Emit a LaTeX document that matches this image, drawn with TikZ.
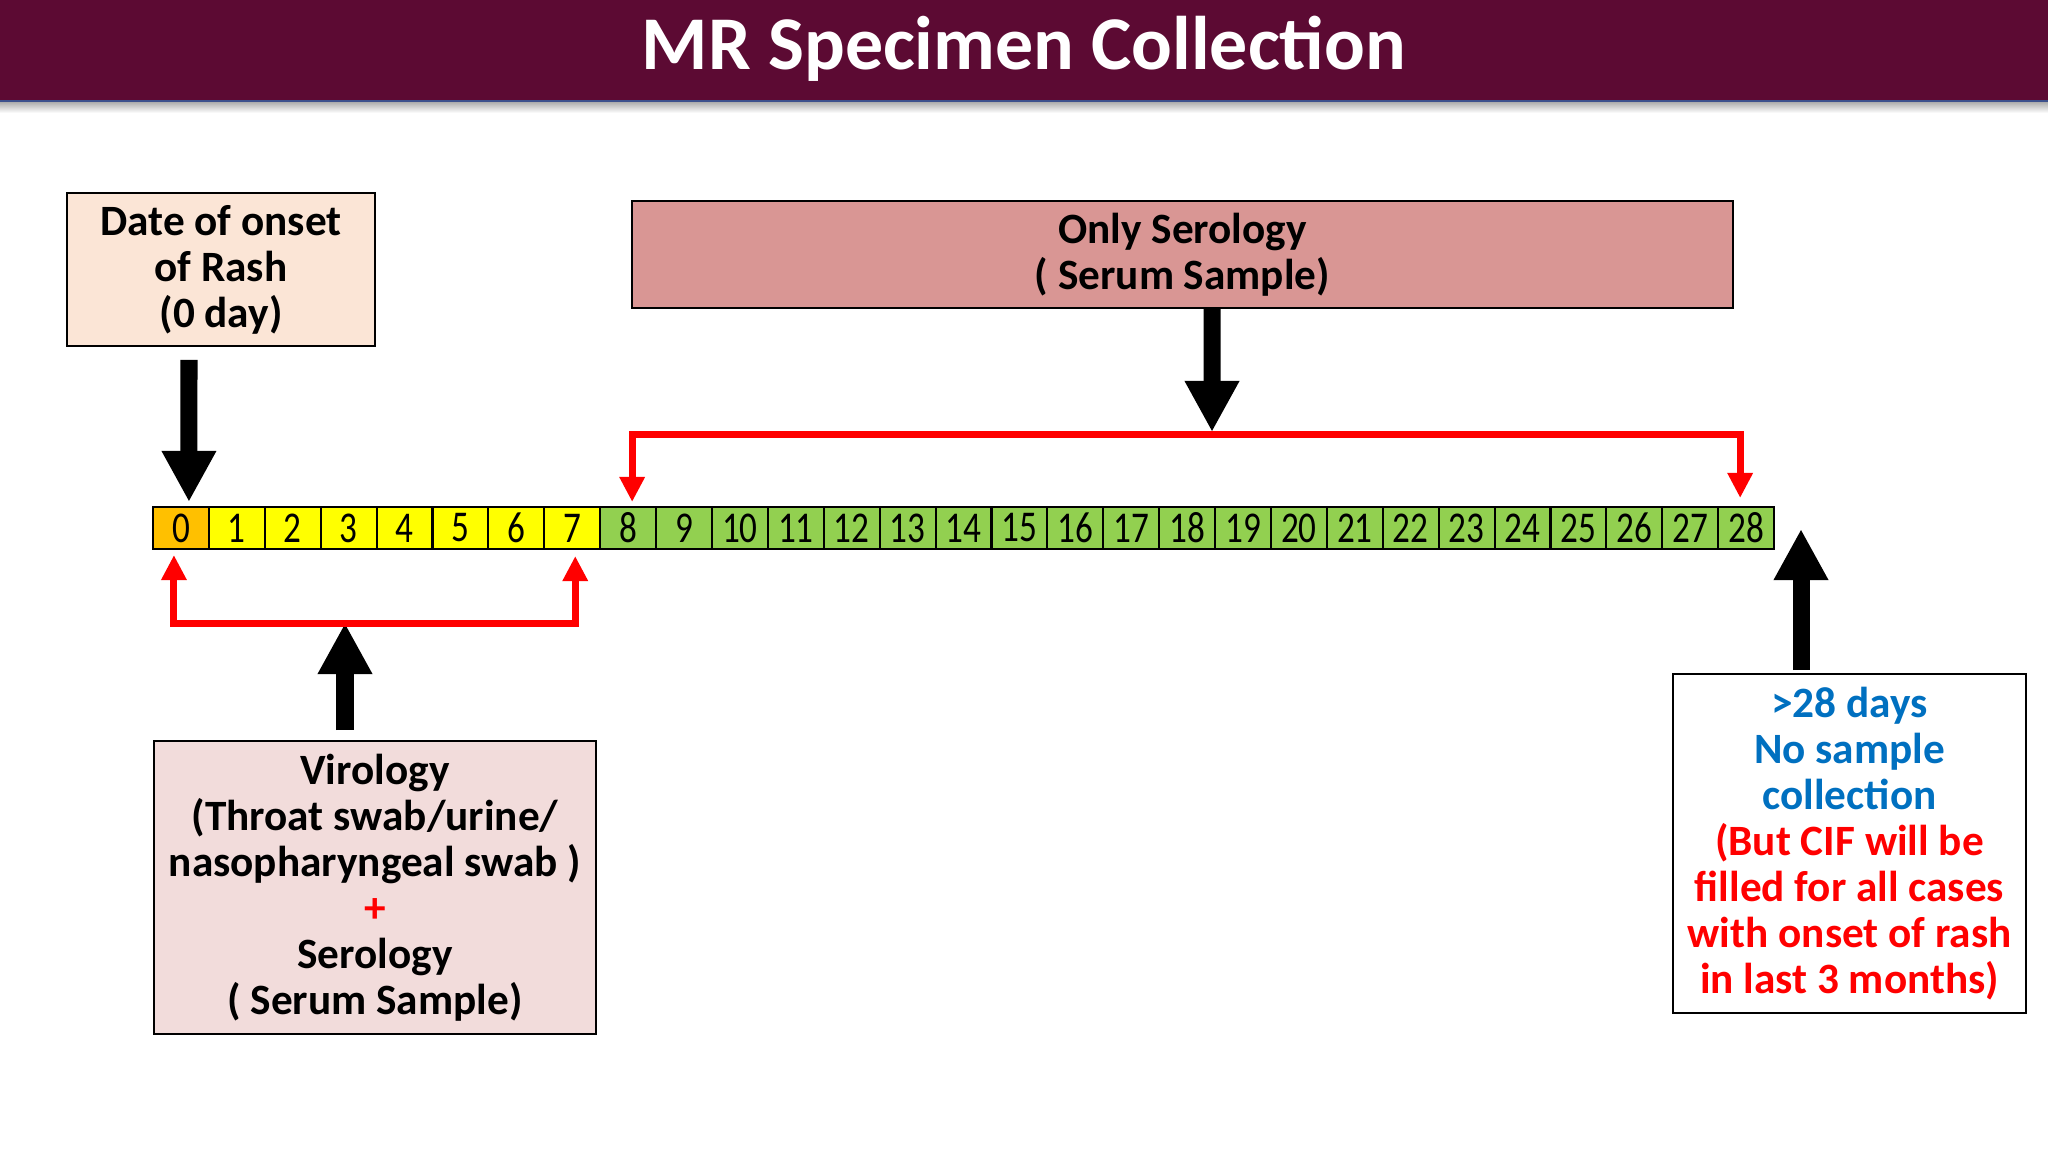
\documentclass[tikz,border=0pt]{standalone}
\usepackage{fontspec}
\setmainfont{Carlito}
\newfontfamily\digitfont[FakeStretch=0.8]{Carlito}
\usetikzlibrary{arrows.meta}
\definecolor{barcol}{HTML}{5C0A33}
\definecolor{cOrange}{HTML}{FFC000}
\definecolor{cYellow}{HTML}{FFFF00}
\definecolor{cGreen}{HTML}{92D050}
\definecolor{peach}{HTML}{FBE5D6}
\definecolor{rose}{HTML}{D99694}
\definecolor{lightpink}{HTML}{F2DCDB}
\definecolor{txtblue}{HTML}{0070C0}
\definecolor{txtred}{HTML}{FF0000}
\tikzset{
  infobox/.style={draw=black, line width=0.5pt, inner sep=0pt, align=center,
    font=\fontsize{12.3}{13.1}\selectfont\bfseries},
  cell/.style={draw=black, line width=0.6pt, inner sep=0pt, minimum width=0.559cm,
    minimum height=0.42cm, font=\digitfont\fontsize{12.5}{13}\selectfont},
  bigarr/.style={line width=0.17cm, -{Triangle[width=0.51cm,length=0.51cm]}},
  redarr/.style={draw=txtred, line width=0.07cm, line join=miter,
    {Triangle[width=0.24cm,length=0.25cm]}-{Triangle[width=0.24cm,length=0.25cm]}}
}
\begin{document}
\begin{tikzpicture}[x=0.01cm,y=-0.01cm]
\useasboundingbox (0,0) rectangle (2048,1152);
\fill[white] (0,0) rectangle (2048,1152);
% title bar
\shade[top color=black!35, bottom color=white] (0,101) rectangle (2048,113);
\fill[barcol] (0,0) rectangle (2048,101);
\draw[color={rgb,255:red,60;green,80;blue,140}, line width=0.4pt] (0,101) -- (2048,101);
\node[text=white, anchor=base, font=\fontsize{21.6}{24}\selectfont\bfseries] (title) at (1024,70) {MR Specimen Collection};
% boxes
\node[infobox, fill=peach, minimum width=3.08cm, minimum height=1.53cm] (date) at (221,269.5) {Date of onset\\of Rash\\(0 day)};
\node[infobox, fill=rose, minimum width=11.01cm, minimum height=1.07cm] (sero) at (1182.5,254.5) {Only Serology\\( Serum Sample)};
\node[infobox, fill=lightpink, minimum width=4.42cm, minimum height=2.93cm] (viro) at (375,887.5) {Virology\\(Throat swab/urine/\\nasopharyngeal swab )\\{\color{txtred}+}\\Serology\\( Serum Sample)};
\node[infobox, fill=white, minimum width=3.53cm, minimum height=3.39cm] (nos) at (1849.5,843.5) {\color{txtblue}>28 days\\\color{txtblue}No sample\\\color{txtblue}collection\\\color{txtred}(But CIF will be\\\color{txtred}filled for all cases\\\color{txtred}with onset of rash\\\color{txtred}in last 3 months)};
% timeline
\foreach \i in {0,...,28}{
  \ifnum\i=0 \def\cc{cOrange}\else\ifnum\i<8 \def\cc{cYellow}\else\def\cc{cGreen}\fi\fi
  \node[cell, fill=\cc] (c\i) at ({153+(\i+0.5)*55.9},528) {\i};
}
% coordinates for free ends
\coordinate (serotip) at (1212,432);
\coordinate (virotip) at (345,623);
\coordinate (nostip) at (1801,529);
% black arrows
\draw[bigarr] ([shift={(-32,13)}]date.south) -- ([shift={(8,-4)}]c0.north);
\draw[bigarr] ([xshift=0.295cm]sero.south) -- (serotip);
\draw[bigarr] ([shift={(-30,-10)}]viro.north) -- (virotip);
\draw[bigarr] ([shift={(-48.5,-3)}]nos.north) -- (nostip);
% red brackets
\draw[redarr] ([shift={(-7,5)}]c0.south) -- ++(0,68) -| ([shift={(3,6)}]c7.south);
\draw[redarr] ([shift={(4,-4)}]c8.north) -- ++(0,-67) -| ([shift={(-6,-8)}]c28.north);
\end{tikzpicture}
\end{document}
